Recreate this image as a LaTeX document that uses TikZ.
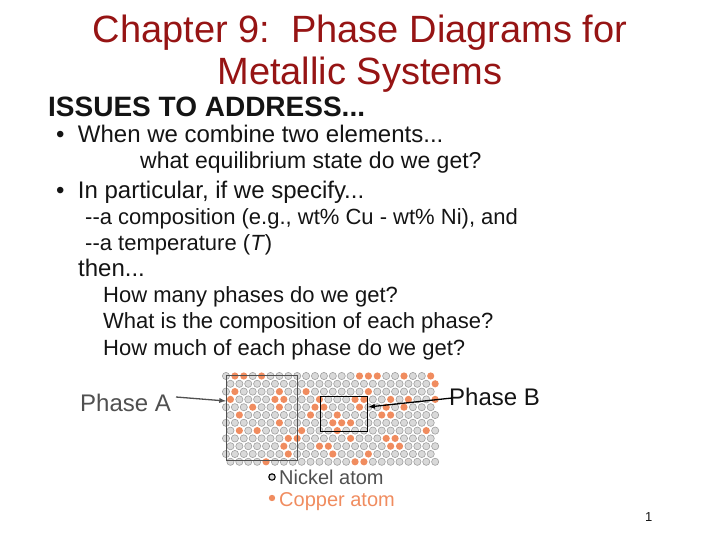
\documentclass[tikz,border=0pt]{standalone}
\usepackage{fontspec}
\setmainfont{Liberation Sans}
\definecolor{ttl}{RGB}{150,20,20}
\definecolor{cu}{RGB}{240,140,95}
\definecolor{txt}{RGB}{20,20,20}
\definecolor{phA}{RGB}{80,80,80}
\begin{document}
\begin{tikzpicture}[x=1pt,y=-1pt,
  t/.style={anchor=base west,inner sep=0pt,text=txt},
  ni/.style={fill=gray!30,draw=gray!75,line width=0.6pt},
  cuat/.style={fill=cu,draw=none}]
\useasboundingbox (0,0) rectangle (720,540);
\node[anchor=base,inner sep=0pt,text=ttl,font=\fontsize{38}{40}\selectfont] (title) at (360,43) {Chapter 9:\ \ Phase Diagrams for};
\node[anchor=base,inner sep=0pt,text=ttl,font=\fontsize{38}{40}\selectfont] (title2) at (360,85) {Metallic Systems};
\node[t,font=\bfseries\fontsize{28}{30}\selectfont] (iss) at (48,117) {ISSUES TO ADDRESS...};
\node[t,font=\fontsize{24}{26}\selectfont] (b1) at (56,143) {\textbullet\ \ When we combine two elements...};
\node[t,font=\fontsize{23}{24}\selectfont] (b1s) at (140,169) {what equilibrium state do we get?};
\node[t,font=\fontsize{24}{26}\selectfont] (b2) at (56,199) {\textbullet\ \ In particular, if we specify...};
\node[t,font=\fontsize{22}{24}\selectfont] (b2a) at (85,225) {-{}-a composition (e.g., wt\% Cu - wt\% Ni), and};
\node[t,font=\fontsize{22}{24}\selectfont] (b2b) at (85,251) {-{}-a temperature (\textit{T})};
\node[t,font=\fontsize{24}{26}\selectfont] (then) at (78,276) {then...};
\node[t,font=\fontsize{22}{24}\selectfont] (q1) at (103,302) {How many phases do we get?};
\node[t,font=\fontsize{22}{24}\selectfont] (q2) at (103,328) {What is the composition of each phase?};
\node[t,font=\fontsize{22}{24}\selectfont] (q3) at (103,355) {How much of each phase do we get?};
% atoms
\pgfmathsetseed{7}
\foreach \r in {0,...,11}{
  \foreach \c in {0,...,23}{
    \pgfmathsetmacro{\xx}{226+\c*8.9+mod(\r,2)*4.45}
    \pgfmathsetmacro{\yy}{376+\r*7.8}
    \pgfmathsetmacro{\rr}{rnd}
    \ifdim \rr pt < 0.18pt
      \fill[cuat] (\xx,\yy) circle (3.6);
    \else
      \filldraw[ni] (\xx,\yy) circle (3.6);
    \fi
  }
}
\node[draw=phA,line width=1pt,minimum width=71pt,minimum height=85pt,inner sep=0pt,anchor=north west] (boxA) at (226,375) {};
\node[draw=black,line width=1.2pt,minimum width=47pt,minimum height=35pt,inner sep=0pt,anchor=north west] (boxB) at (320,396) {};
\node[t,text=phA,font=\fontsize{24}{26}\selectfont] (pA) at (80,411) {Phase A};
\node[t,font=\fontsize{24}{26}\selectfont] (pB) at (449,405) {Phase B};
\coordinate (pAe) at (176,397);
\coordinate (pBe) at (452,398);
\draw[-latex,phA,line width=1.3pt] (pAe) -- (boxA.west |- 0,401);
\draw[-latex,black,line width=1.3pt] (pBe) -- (boxB.east |- 0,407);
\filldraw[fill=gray!30,draw=black,line width=1.1pt] (272,477) circle (3.2) coordinate (niL);
\node[t,text=phA,font=\fontsize{20}{22}\selectfont] (nl) at (279,484) {Nickel atom};
\fill[cu] (272,498) circle (3.2) coordinate (cuL);
\node[t,text=cu,font=\fontsize{20}{22}\selectfont] (cl) at (279,506) {Copper atom};
\node[t,font=\fontsize{13}{14}\selectfont] (pg) at (645,521) {1};
\end{tikzpicture}
\end{document}
